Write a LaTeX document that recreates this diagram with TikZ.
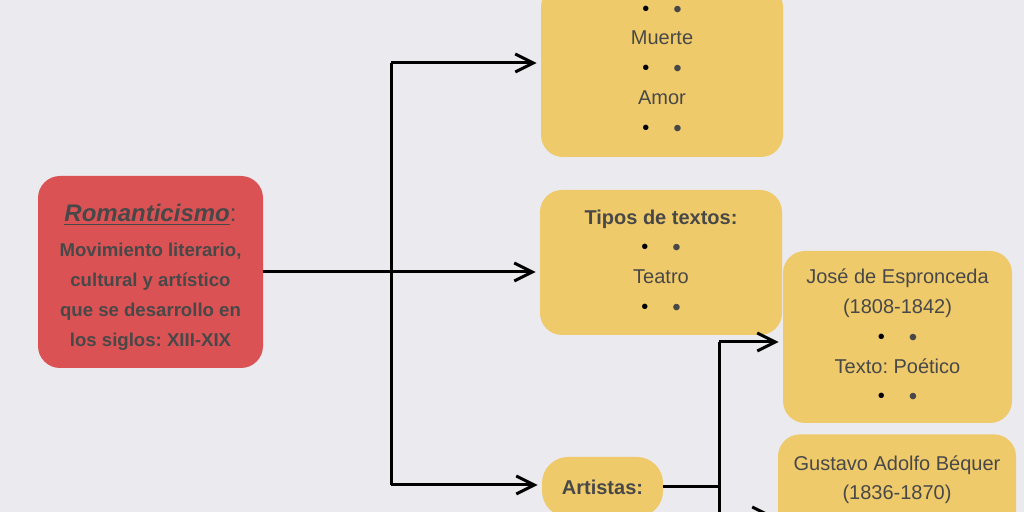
\documentclass[tikz,border=0pt]{standalone}
\usepackage{fontspec}
\setmainfont{Liberation Sans}
\usetikzlibrary{arrows.meta,positioning}
\definecolor{papel}{HTML}{EBEAEF}
\definecolor{rojo}{HTML}{DB5254}
\definecolor{amarillo}{HTML}{EFCA6A}
\definecolor{tinta}{HTML}{484848}
\newcommand\puntos{{\color{black}\textbullet}\hspace{12pt}\raisebox{-1pt}{\large\textbullet}}
\frenchspacing

\begin{document}
\begin{tikzpicture}[x=0.5pt,y=-0.5pt]
      \tikzset{rbox/.style={fill=rojo,rounded corners=11pt,text=tinta,align=center,inner sep=0pt,
                 font=\bfseries\fontsize{9.3}{15}\selectfont},
               ybox/.style={fill=amarillo,rounded corners=11pt,text=tinta,align=center,inner sep=0pt,
                 font=\fontsize{10}{14.9}\selectfont},
               btxt/.style={text=tinta,align=center,inner sep=0pt,font=\fontsize{10}{14.9}\selectfont},
               conn/.style={line width=1.5pt,black},
               arr/.style={conn,-{Straight Barb[length=9pt,width=9pt]},shorten >=2pt}}
      \useasboundingbox (0,0) rectangle (1024,512);
      \clip (0,0) rectangle (1024,512);
      \fill[papel] (0,0) rectangle (1024,512);

\node[rbox,minimum width=112.5pt,minimum height=96pt] (rom) at (150.5,272)
  {{\fontsize{12}{15}\selectfont\rule{0pt}{14pt}\underline{\textit{Romanticismo}}\textmd{:}}\\[2.5pt]
   Movimiento literario,\\ cultural y artístico\\ que se desarrollo en\\ los siglos: XIII-XIX};
\node[ybox,minimum width=121pt,minimum height=86pt] (temas) at (662,71)
  {\puntos\\ Muerte\\ \puntos\\ Amor\\ \puntos};
\node[ybox,minimum width=121pt,minimum height=72.5pt] (tipos) at (661,262.5)
  {\textbf{Tipos de textos:}\\ \puntos\\ Teatro\\ \puntos};
\node[ybox,minimum width=60.5pt,minimum height=30pt,rounded corners=13pt] (art) at (602.5,487)
  {\textbf{Artistas:}};
\node[ybox,minimum width=114.5pt,minimum height=86pt] (espr) at (897.5,337)
  {José de Espronceda\\ (1808-1842)\\ \puntos\\ Texto: Poético\\ \puntos};
\node[ybox,minimum width=119pt,minimum height=90pt,anchor=north,
  label={[name=gabtxt,btxt,below=10.5pt]north:{Gustavo Adolfo Béquer\\ (1836-1870)}}] (gab) at (897,434) {};

\coordinate (b1) at (391,63);
\coordinate (b2) at (391,485);
\coordinate (c1) at (719,342);
\coordinate (c2) at (719,516);

\draw[conn] (b1) -- (b2);
\draw[arr] (b1) -- (temas.west |- b1);
\draw[arr] (rom.east) -- (tipos.west |- rom.east);
\draw[arr] (b2) -- (art.west |- b2);
\draw[conn] (art.east) -- (art.east -| c1);
\draw[conn] (c1) -- (c2);
\draw[arr] (c1) -- (espr.west |- c1);
\draw[arr] (c2) -- (gab.west |- c2);

    \end{tikzpicture}
\end{document}
